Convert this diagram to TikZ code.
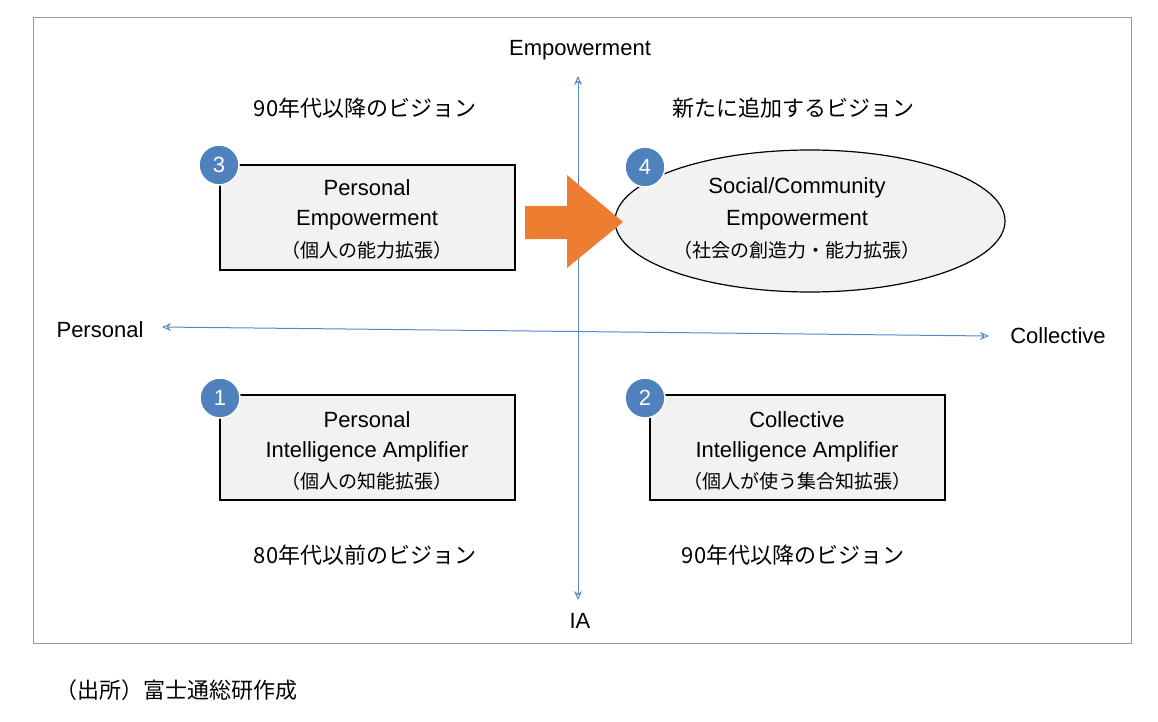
\documentclass[tikz,border=0pt]{standalone}
\usepackage{fontspec}
\setmainfont{Liberation Sans}
\newfontfamily\cjk{Noto Sans CJK JP}
\usetikzlibrary{shapes.geometric,arrows.meta}
\definecolor{axisblue}{HTML}{5B87C5}
\definecolor{numblue}{HTML}{4F81BD}
\definecolor{boxgray}{HTML}{F2F2F2}
\definecolor{orng}{HTML}{ED7D31}
\begin{document}
\begin{tikzpicture}[x=1pt,y=-1pt,
  txt/.style={font=\fontsize{22}{26}\selectfont, align=center, inner sep=0},
  jp/.style={font=\fontsize{22}{26}\selectfont\cjk, inner sep=0},
  box/.style={draw=black, line width=1.2pt, fill=boxgray},
  num/.style={circle, fill=numblue, draw=white, line width=1.5pt, minimum size=40pt, inner sep=0, text=white, font=\fontsize{22}{26}\selectfont},
  ax/.style={draw=axisblue, line width=1pt, {Stealth[open,length=9pt,width=8pt]}-{Stealth[open,length=9pt,width=8pt]}}]
\useasboundingbox (0,0) rectangle (1158,722);
\draw[gray!80, line width=0.8pt] (33,17) rectangle (1131,643);
% axes
\coordinate (vt) at (578,76); \coordinate (vb) at (578,600);
\coordinate (hl) at (162,327); \coordinate (hr) at (989,336);
\draw[ax] (vt) -- (vb);
\draw[ax] (hl) -- (hr);
\node[txt] (emp) at (580,50) {Empowerment};
\node[txt] (ia) at (580,621) {IA};
\node[txt] (pers) at (100,330) {Personal};
\node[txt] (coll) at (1058,336) {Collective};
% quadrant labels
\node[jp] (q3) at (365,108) {90年代以降のビジョン};
\node[jp] (q4) at (793,108) {新たに追加するビジョン};
\node[jp] (q1) at (365,555) {80年代以前のビジョン};
\node[jp] (q2) at (793,555) {90年代以降のビジョン};
% boxes
\draw[box] (220,165) rectangle (515,270);
\node[txt] (b3a) at (367,188) {Personal};
\node[txt] (b3b) at (367,220) {Empowerment};
\node[jp,font=\fontsize{19}{22}\selectfont\cjk] (b3c) at (367,250) {（個人の能力拡張）};
\draw[box] (220,395) rectangle (515,500);
\node[txt] (b1a) at (367,420) {Personal};
\node[txt] (b1b) at (367,452) {Intelligence Amplifier};
\node[jp,font=\fontsize{19}{22}\selectfont\cjk] (b1c) at (367,481) {（個人の知能拡張）};
\draw[box] (650,395) rectangle (945,500);
\node[txt] (b2a) at (797,420) {Collective};
\node[txt] (b2b) at (797,452) {Intelligence Amplifier};
\node[jp,font=\fontsize{19}{22}\selectfont\cjk] (b2c) at (797,481) {（個人が使う集合知拡張）};
\node[ellipse, draw=black, line width=1.2pt, fill=boxgray, minimum width=390pt, minimum height=142pt] (ell) at (810,221) {};
\node[txt] (b4a) at (797,188) {Social/Community};
\node[txt] (b4b) at (797,220) {Empowerment};
\node[jp,font=\fontsize{19}{22}\selectfont\cjk] (b4c) at (797,250) {（社会の創造力・能力拡張）};
% number badges
\node[num] (n3) at (219,165) {3};
\node[num] (n1) at (220,398) {1};
\node[num] (n2) at (645,398) {2};
\node[num] (n4) at (645,167) {4};
% orange arrow
\fill[orng] (525,206) -- (567,206) -- (567,175) -- (623,222) -- (567,268) -- (567,239) -- (525,239) -- cycle;
% source
\node[jp, anchor=west, font=\fontsize{22}{26}\selectfont\cjk] (src) at (55,690) {（出所）富士通総研作成};
\end{tikzpicture}
\end{document}
